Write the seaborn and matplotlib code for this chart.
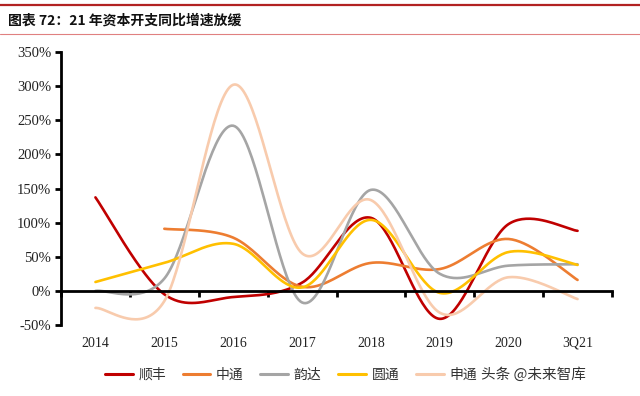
import numpy as np
import pandas as pd
import matplotlib
matplotlib.use("Agg")
import matplotlib.pyplot as plt
from matplotlib.lines import Line2D
import seaborn as sns

# ---- data ----
categories = ["2014", "2015", "2016", "2017", "2018", "2019", "2020", "3Q21"]
shunfeng = [137, -5, -9, 12, 107, -41, 98, 88]
zhongtong = [np.nan, 91, 78, 6, 41, 32, 76, 16]
yunda = [0, 18, 242, -17, 148, 25, 37, 39]
yuantong = [13, 41, 69, 5, 104, -3, 57, 38]
shentong = [-25, -15, 302, 55, 133, -32, 20, -12]
series_names = ["顺丰", "中通", "韵达", "圆通", "申通"]
colors = ["#C00000", "#ED7D31", "#A5A5A5", "#FFC000", "#F8CBAD"]
yticks = [-50, 0, 50, 100, 150, 200, 250, 300, 350]


def smooth(xs, ys, n=40):
    """Excel-style smoothed line (Catmull-Rom through the data points)."""
    P = np.column_stack([xs, ys]).astype(float)
    ext = np.vstack([P[0], P, P[-1]])
    out = []
    for i in range(len(P) - 1):
        p0, p1, p2, p3 = ext[i], ext[i + 1], ext[i + 2], ext[i + 3]
        m1 = (p2 - p0) / 2
        m2 = (p3 - p1) / 2
        t = np.linspace(0, 1, n, endpoint=(i == len(P) - 2))[:, None]
        h00 = 2 * t**3 - 3 * t**2 + 1
        h10 = t**3 - 2 * t**2 + t
        h01 = -2 * t**3 + 3 * t**2
        h11 = t**3 - t**2
        out.append(h00 * p1 + h10 * m1 + h01 * p2 + h11 * m2)
    return np.vstack(out)


frames = []
for name, vals in zip(series_names, [shunfeng, zhongtong, yunda, yuantong, shentong]):
    v = np.array(vals, dtype=float)
    idx = np.arange(len(v))
    ok = ~np.isnan(v)
    pts = smooth(idx[ok], v[ok])
    frames.append(pd.DataFrame({"x": pts[:, 0], "y": pts[:, 1], "公司": name}))
df = pd.concat(frames, ignore_index=True)

sns.set_theme(style="white")
plt.rcParams["font.family"] = ["Noto Sans CJK SC", "DejaVu Sans"]

fig = plt.figure(figsize=(6.4, 3.96), dpi=100)
ax = fig.add_axes([61 / 640, 1 - 325 / 396, (612 - 61) / 640, (325 - 52) / 396])

sns.lineplot(data=df, x="x", y="y", hue="公司", hue_order=series_names,
             palette=colors, sort=False, estimator=None, linewidth=1.9,
             legend=False, ax=ax)

ax.set_xlim(-0.5, len(categories) - 0.5)
ax.set_ylim(-50, 350)
ax.set_xlabel("")
ax.set_ylabel("")

# spines
for s in ["top", "right"]:
    ax.spines[s].set_visible(False)
ax.spines["left"].set_linewidth(2.0)
ax.spines["left"].set_color("black")
ax.spines["bottom"].set_position(("data", 0))
ax.spines["bottom"].set_linewidth(2.0)
ax.spines["bottom"].set_color("black")

# y ticks
ax.set_yticks(yticks)
ax.set_yticklabels([f"{v}%" for v in yticks], family="Liberation Serif",
                   fontsize=10.5, color="#222222")
ax.tick_params(axis="y", direction="out", length=4, width=2, color="black",
               left=True, pad=3)

# x ticks: marks between categories, labels at the bottom
ax.set_xticks(np.arange(-0.5, len(categories), 1.0))
ax.set_xticklabels([])
ax.tick_params(axis="x", which="major", direction="out", length=4, width=2,
               color="black", bottom=True)
ax.set_xticks(np.arange(len(categories)), minor=True)
ax.set_xticklabels(categories, minor=True, family="Liberation Serif",
                   fontsize=10, color="#222222")
ax.tick_params(axis="x", which="minor", length=0, pad=33)
ax.grid(False)

# legend
handles = [Line2D([0], [0], color=c, lw=2.2) for c in colors]
fig.legend(handles, series_names, loc="center", ncol=5,
           bbox_to_anchor=(291 / 640, 1 - 375 / 396), frameon=False,
           fontsize=10, handlelength=2.0, handletextpad=0.4,
           columnspacing=1.2, labelcolor="#333333")

# watermark
fig.text(481 / 640, 1 - 375 / 396, "头条 @未来智库", fontsize=10.5,
         color="#333333", va="center", ha="left")

# title and rules
fig.add_artist(Line2D([0, 1], [1 - 5 / 396, 1 - 5 / 396], color="#B22222", lw=1.6))
fig.add_artist(Line2D([0, 1], [1 - 34 / 396, 1 - 34 / 396], color="#E08080", lw=0.8))
fig.text(8 / 640, 1 - 21 / 396, "图表 72：21 年资本开支同比增速放缓", fontsize=10,
         fontweight="bold", color="#111111", va="center", ha="left")

fig.savefig("out.png", dpi=100)
